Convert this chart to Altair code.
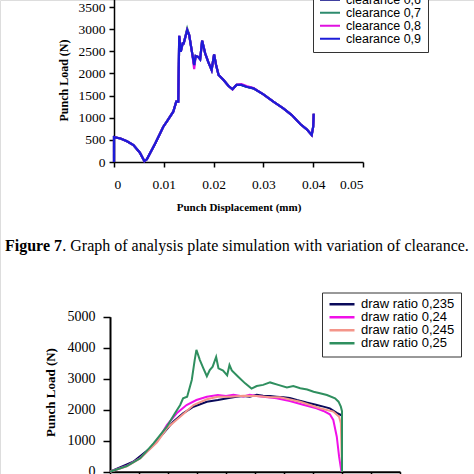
import altair as alt
import pandas as pd

# ---------------- top chart (clearance) ----------------
TOP_SERIES = ["clearance 0,6", "clearance 0,7", "clearance 0,8", "clearance 0,9"]
TOP_COLORS = ["#000080", "#2E8B6E", "#E010E0", "#1C1CD8"]
TOP_X = [0, 0, 0.0013, 0.0026, 0.0039, 0.0052, 0.0059, 0.0061, 0.0066, 0.0083,
         0.0099, 0.0106, 0.0119, 0.0125, 0.0129, 0.0131, 0.0134, 0.0138, 0.0140, 0.0147,
         0.0151, 0.0157, 0.0161, 0.0164, 0.0169, 0.0173, 0.0177, 0.0183, 0.0189, 0.0196,
         0.0201, 0.0205, 0.0210, 0.0220, 0.0230, 0.0238, 0.0246, 0.0256, 0.0266, 0.0280,
         0.0300, 0.0320, 0.0340, 0.0357, 0.0374, 0.0387, 0.0397, 0.0400, 0.0401]
TOP_06 = [0, 560, 530, 470, 384, 210, 61, 20, 61, 425,
          797, 910, 1136, 1362, 1362, 2850, 2491, 2680, 2680, 2980,
          2868, 2455, 2190, 2394, 2375, 2320, 2740, 2455, 2265, 2078,
          2430, 2190, 1965, 1852, 1716, 1641, 1740, 1740, 1700, 1664,
          1529, 1362, 1212, 1061, 858, 738, 610, 797, 1090]
TOP_07 = [0, 560, 530, 470, 384, 210, 61, 20, 61, 425,
          797, 910, 1136, 1362, 1362, 2830, 2491, 2680, 2680, 3010,
          2868, 2455, 2190, 2394, 2375, 2320, 2740, 2455, 2265, 2078,
          2430, 2190, 1965, 1852, 1716, 1641, 1740, 1740, 1700, 1664,
          1529, 1362, 1212, 1061, 858, 738, 610, 797, 1090]
TOP_08 = [0, 560, 530, 470, 384, 210, 61, 20, 61, 425,
          797, 910, 1136, 1362, 1362, 2850, 2491, 2680, 2680, 2980,
          2868, 2455, 2100, 2394, 2375, 2320, 2740, 2455, 2265, 2078,
          2430, 2190, 1965, 1852, 1716, 1641, 1745, 1760, 1715, 1670,
          1529, 1362, 1212, 1061, 858, 738, 610, 797, 1090]
TOP_09 = [0, 560, 530, 470, 384, 210, 61, 20, 61, 425,
          797, 910, 1136, 1362, 1362, 2850, 2491, 2680, 2680, 2980,
          2868, 2455, 2190, 2394, 2375, 2320, 2740, 2455, 2265, 2078,
          2430, 2190, 1965, 1852, 1716, 1641, 1740, 1740, 1700, 1664,
          1529, 1362, 1212, 1061, 858, 738, 610, 797, 1090]
TOP_TICKS_X = [0, 0.01, 0.02, 0.03, 0.04, 0.05]
TOP_TICKS_Y = [0, 500, 1000, 1500, 2000, 2500, 3000, 3500, 4000]

# ---------------- bottom chart (draw ratio) ----------------
BOT_SERIES = ["draw ratio 0,235", "draw ratio 0,24", "draw ratio 0,245", "draw ratio 0,25"]
BOT_COLORS = ["#0A0A5A", "#F010E8", "#F4958A", "#2F8F5F"]
NAVY_X = [0, 0.0040, 0.0069, 0.0092, 0.0109, 0.0126, 0.0144, 0.0167, 0.0186, 0.0205,
          0.0218, 0.0230, 0.0241, 0.0253, 0.0264, 0.0276, 0.0287, 0.0299, 0.0310, 0.0322,
          0.0339, 0.0355, 0.0368, 0.0379, 0.0391, 0.0398, 0.0401]
NAVY_Y = [0, 323, 755, 1239, 1613, 1884, 2097, 2258, 2313, 2380,
          2420, 2440, 2420, 2480, 2450, 2440, 2420, 2400, 2380, 2313,
          2230, 2160, 2100, 2045, 1900, 1829, 1800]
MAG_X = [0, 0.0029, 0.0052, 0.0081, 0.0098, 0.0115, 0.0132, 0.0149, 0.0167, 0.0186,
         0.0200, 0.0213, 0.0230, 0.0241, 0.0253, 0.0264, 0.0276, 0.0287, 0.0310, 0.0333,
         0.0356, 0.0368, 0.0379, 0.0385, 0.0391, 0.0395, 0.0399]
MAG_Y = [0, 190, 440, 968, 1506, 1884, 2151, 2313, 2420, 2474,
         2440, 2480, 2430, 2480, 2440, 2420, 2390, 2368, 2280, 2160,
         2045, 1960, 1850, 1668, 1129, 484, 0]
SAL_X = [0, 0.0029, 0.0052, 0.0081, 0.0098, 0.0121, 0.0144, 0.0167, 0.0186, 0.0207,
         0.0230, 0.0253, 0.0276, 0.0293, 0.0328, 0.0362, 0.0385, 0.0395, 0.0398, 0.0400]
SAL_Y = [0, 170, 430, 950, 1400, 1775, 2151, 2335, 2420, 2420,
         2450, 2440, 2400, 2400, 2258, 2045, 1940, 1775, 1560, 0]
GRN_X = [0, 0.0029, 0.0052, 0.0075, 0.0098, 0.0112, 0.0121, 0.0126, 0.0133, 0.0141,
         0.0146, 0.0149, 0.0155, 0.0161, 0.0167, 0.0172, 0.0177, 0.0183, 0.0187, 0.0195,
         0.0202, 0.0206, 0.0210, 0.0221, 0.0233, 0.0244, 0.0253, 0.0264, 0.0276, 0.0290,
         0.0305, 0.0316, 0.0328, 0.0340, 0.0351, 0.0362, 0.0374, 0.0388, 0.0394, 0.0398,
         0.0400, 0.0400]
GRN_Y = [0, 184, 432, 914, 1452, 1884, 2151, 2368, 2420, 2958,
         3600, 3930, 3600, 3335, 3080, 3280, 3387, 3700, 3335, 3265,
         3110, 3440, 3265, 3065, 2850, 2680, 2764, 2800, 2880, 2800,
         2720, 2760, 2690, 2650, 2580, 2530, 2474, 2368, 2258, 2097,
         1950, 0]
BOT_TICKS_Y = [0, 1000, 2000, 3000, 4000, 5000]

CAPTION_BOLD = "Figure 7"
CAPTION_REST = ". Graph of analysis plate simulation with variation of clearance."

# ---------------- tables ----------------
rows = []
for name, ys in zip(TOP_SERIES, [TOP_06, TOP_07, TOP_08, TOP_09]):
    for i, (x, y) in enumerate(zip(TOP_X, ys)):
        rows.append({"x": x, "y": y, "series": name, "i": i})
top_df = pd.DataFrame(rows)

rows = []
for name, xs, ys in zip(BOT_SERIES, [NAVY_X, MAG_X, SAL_X, GRN_X], [NAVY_Y, MAG_Y, SAL_Y, GRN_Y]):
    for i, (x, y) in enumerate(zip(xs, ys)):
        rows.append({"x": x, "y": y, "series": name, "i": i})
bot_df = pd.DataFrame(rows)

SERIF = "Liberation Serif"
SANS = "Liberation Sans"

axis_common = dict(grid=False, domainColor="black", tickColor="black",
                   labelColor="black", labelFont=SERIF, titleFont=SERIF,
                   titleColor="black", titleFontWeight="bold")

top = alt.Chart(top_df).mark_line(strokeWidth=2.2).encode(
    x=alt.X("x:Q", scale=alt.Scale(domain=[0, 0.05], range=[114, 363], nice=False, zero=False),
            axis=alt.Axis(orient="bottom", offset=-312, values=TOP_TICKS_X, format="~g",
                          domainWidth=1.5, tickWidth=1.5, tickSize=5, labelPadding=10,
                          labelFontSize=13.5, title="Punch Displacement (mm)", titleFontSize=11,
                          titleX=238.5, titleY=48.5, titleBaseline="alphabetic",
                          titleAlign="center", **axis_common)),
    y=alt.Y("y:Q", scale=alt.Scale(domain=[0, 4000], range=[162, -15.1], nice=False),
            axis=alt.Axis(orient="left", offset=-114, values=TOP_TICKS_Y, format="d",
                          domainWidth=1.5, tickWidth=1.5, tickSize=5, labelPadding=4,
                          labelFontSize=13.5, title="Punch Load (N)", titleFontSize=12,
                          titleAngle=270, titleX=-46.5, titleY=80, titleAlign="center",
                          titleBaseline="alphabetic", **axis_common)),
    color=alt.Color("series:N", sort=TOP_SERIES,
                    scale=alt.Scale(domain=TOP_SERIES, range=TOP_COLORS),
                    legend=alt.Legend(orient="none", legendX=313, legendY=-12, title=None,
                                      labelFont=SANS, labelFontSize=12.5, labelColor="black",
                                      symbolType="stroke", symbolSize=400, symbolStrokeWidth=2,
                                      labelOffset=5, rowPadding=-4, clipHeight=11.5, padding=6,
                                      strokeColor="#333333", fillColor="white")),
    detail="series:N",
    order=alt.Order("i:Q"),
)

bottom = alt.Chart(bot_df).mark_line(strokeWidth=2).encode(
    x=alt.X("x:Q", scale=alt.Scale(domain=[0, 0.05], range=[110, 400], nice=False, zero=False),
            axis=alt.Axis(orient="bottom", offset=-2.3, labels=False, title=None,
                          domainWidth=2, tickWidth=1.5, tickSize=5, **axis_common)),
    y=alt.Y("y:Q", scale=alt.Scale(domain=[0, 5000], range=[471.7, 316.7], nice=False),
            axis=alt.Axis(orient="left", offset=-110, values=BOT_TICKS_Y, format="d",
                          domainWidth=2, tickWidth=1.5, tickSize=7, labelPadding=8,
                          labelFontSize=14, title="Punch Load (N)", titleFontSize=13,
                          titleAngle=270, titleX=-55.7, titleY=392, titleAlign="center",
                          titleBaseline="alphabetic", **axis_common)),
    color=alt.Color("series:N", sort=BOT_SERIES,
                    scale=alt.Scale(domain=BOT_SERIES, range=BOT_COLORS),
                    legend=alt.Legend(orient="none", legendX=322, legendY=292.5, title=None,
                                      labelFont=SANS, labelFontSize=13, labelColor="black",
                                      symbolType="stroke", symbolSize=625, symbolStrokeWidth=2.5,
                                      labelOffset=5, rowPadding=-4.5, clipHeight=11.3, padding=6,
                                      strokeColor="#333333", fillColor="white")),
    detail="series:N",
    order=alt.Order("i:Q"),
)

cap1 = alt.Chart(pd.DataFrame({"t": [CAPTION_BOLD]})).mark_text(
    font=SERIF, fontSize=16, fontWeight="bold", align="left", baseline="alphabetic", color="black"
).encode(text="t:N", x=alt.value(5), y=alt.value(251))

cap2 = alt.Chart(pd.DataFrame({"t": [CAPTION_REST]})).mark_text(
    font=SERIF, fontSize=16, align="left", baseline="alphabetic", color="black"
).encode(text="t:N", x=alt.value(62.3), y=alt.value(251))

chart = alt.layer(top, bottom, cap1, cap2).resolve_scale(
    x="independent", y="independent", color="independent"
).properties(
    width=474, height=474, padding=0,
    autosize=alt.AutoSizeParams(type="none"),
).configure_view(strokeWidth=0).configure(background="white").configure_axis(
    labelFont=SERIF, titleFont=SERIF
)

chart.save("out.html", embed_options={"renderer": "svg", "actions": False})
